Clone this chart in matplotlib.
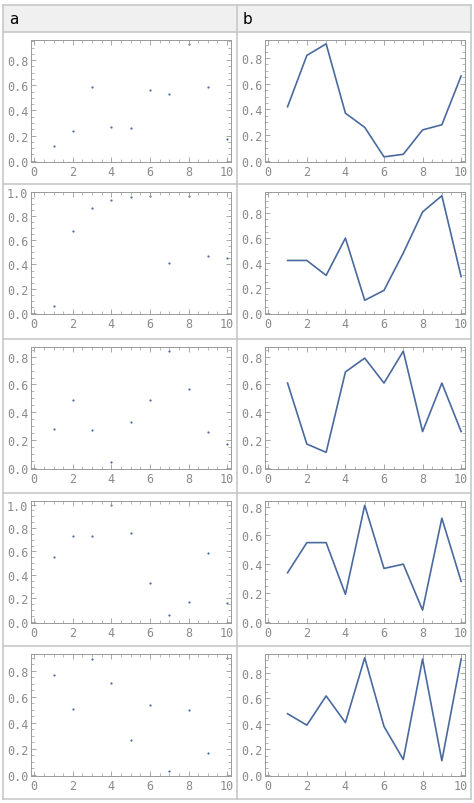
import matplotlib
matplotlib.use("Agg")
import matplotlib.pyplot as plt
from matplotlib.ticker import MultipleLocator
from matplotlib.lines import Line2D
from matplotlib.patches import Rectangle

x = list(range(1, 11))
a1 = [0.12,0.24,0.59,0.27,0.26,0.56,0.53,0.93,0.59,0.17]
b1 = [0.42,0.82,0.91,0.37,0.26,0.03,0.05,0.24,0.28,0.66]
a2 = [0.06,0.68,0.87,0.93,0.96,0.97,0.41,0.97,0.47,0.45]
b2 = [0.42,0.42,0.30,0.60,0.10,0.18,0.48,0.81,0.94,0.29]
a3 = [0.28,0.49,0.27,0.04,0.33,0.49,0.84,0.57,0.26,0.17]
b3 = [0.61,0.17,0.11,0.69,0.79,0.61,0.84,0.26,0.61,0.26]
a4 = [0.55,0.73,0.73,1.00,0.76,0.33,0.06,0.17,0.59,0.16]
b4 = [0.34,0.55,0.55,0.19,0.81,0.37,0.40,0.08,0.72,0.28]
a5 = [0.77,0.51,0.89,0.71,0.27,0.54,0.03,0.50,0.17,0.90]
b5 = [0.48,0.39,0.62,0.41,0.92,0.38,0.12,0.91,0.11,0.91]
col_a = [a1, a2, a3, a4, a5]
col_b = [b1, b2, b3, b4, b5]
headers = ["a", "b"]

W, H = 474, 804
fig = plt.figure(figsize=(W/100, H/100), dpi=100)
C = "#4a6a9e"
grid_c = "#c8c8c8"

col_x = [3, 237, 471]
row_y = [6, 33, 185, 340, 494, 647, 800]

def fx(px): return px / W
def fy(py): return 1 - py / H

# header background
fig.patches.append(Rectangle((fx(3), fy(33)), fx(468), 27/H, transform=fig.transFigure,
                             facecolor="#f0f0f0", edgecolor="none", zorder=0))
for yy in row_y:
    fig.add_artist(Line2D([fx(3), fx(471)], [fy(yy), fy(yy)], color=grid_c, lw=1.2))
for xx in col_x:
    fig.add_artist(Line2D([fx(xx), fx(xx)], [fy(6), fy(800)], color=grid_c, lw=1.2))
for i, h in enumerate(headers):
    fig.text(fx(col_x[i] + 6), fy(20), h, fontsize=11, va="center", ha="left", color="black")

for r in range(5):
    for c in range(2):
        left = col_x[c] + 28
        top = row_y[r + 1] + 8
        ax = fig.add_axes([fx(left), fy(top + 122), 200/W, 122/H])
        data = col_a[r] if c == 0 else col_b[r]
        if c == 0:
            ax.scatter(x, data, s=2.5, color=C, linewidths=0)
        else:
            ax.plot(x, data, color=C, lw=1.2)
        ax.set_xlim(-0.17, 10.2)
        lo = min(0, min(data)); hi = max(data)
        ax.set_ylim(lo - 0.01, hi + 0.03)
        ax.xaxis.set_major_locator(MultipleLocator(2))
        ax.xaxis.set_minor_locator(MultipleLocator(0.5))
        ax.yaxis.set_major_locator(MultipleLocator(0.2))
        ax.yaxis.set_minor_locator(MultipleLocator(0.05))
        ax.xaxis.set_major_formatter(plt.FuncFormatter(lambda v, p: f"{int(round(v))}"))
        ax.yaxis.set_major_formatter(plt.FuncFormatter(lambda v, p: f"{v:.1f}"))
        ax.tick_params(which="both", direction="in", top=True, right=True, color="#999999",
                       labelcolor="#8a8a8a", labelsize=8.5, pad=2)
        ax.tick_params(which="major", length=3.5, width=0.6)
        ax.tick_params(which="minor", length=2, width=0.5)
        for lab in ax.get_xticklabels() + ax.get_yticklabels():
            lab.set_family("DejaVu Sans Mono")
        for s in ax.spines.values():
            s.set_color("#999999"); s.set_linewidth(0.7)

fig.savefig("out.png", dpi=100)
